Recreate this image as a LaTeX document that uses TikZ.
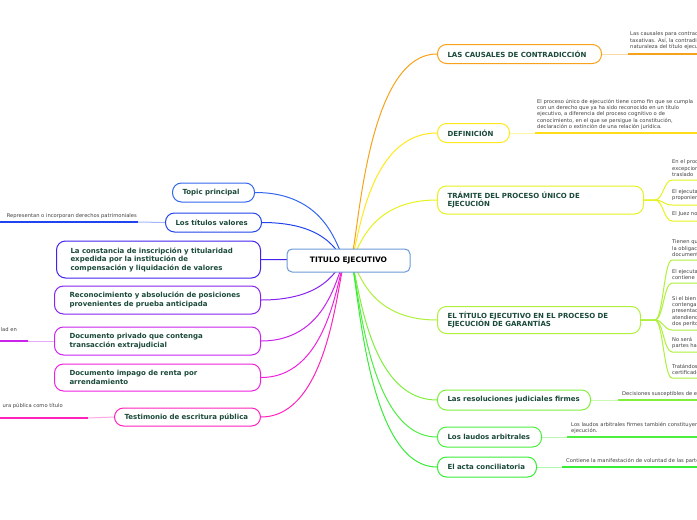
\documentclass[tikz,border=0pt]{standalone}
\usepackage{fontspec}
\setmainfont{DejaVu Sans}
\usetikzlibrary{calc,backgrounds}
\begin{document}
\begin{tikzpicture}[x=1pt,y=-1pt,
 box/.style 2 args={draw=#1,line width=1pt,rounded corners=9pt,fill=white,inner xsep=10pt,inner ysep=0pt,anchor=west,font=\fontsize{7}{8.5}\selectfont\bfseries,text=tgreen,align=left,text width=#2-20pt},
 small/.style={anchor=south west,inner sep=0pt,font=\fontsize{5.2}{6.4}\selectfont,text=black!75,align=left},
 con/.style={draw=#1,line width=1pt}]
\definecolor{tgreen}{HTML}{1B4A3A}
\definecolor{corange}{HTML}{F7A21B}
\definecolor{cyellow}{HTML}{FFE81C}
\definecolor{cy2}{HTML}{E6F21C}
\definecolor{cg1}{HTML}{AEF03A}
\definecolor{cg2}{HTML}{80F03C}
\definecolor{cg3}{HTML}{4CEE40}
\definecolor{cg4}{HTML}{38EC38}
\definecolor{cb1}{HTML}{3366EE}
\definecolor{cb2}{HTML}{2244EE}
\definecolor{cv1}{HTML}{4422EE}
\definecolor{cv2}{HTML}{8822EE}
\definecolor{cm1}{HTML}{CC22EE}
\definecolor{cm2}{HTML}{EE22DD}
\definecolor{cm3}{HTML}{FF22BB}
\useasboundingbox (0,0) rectangle (697,520);
\clip (0,0) rectangle (697,520);
\coordinate (cR) at (350,260);
\coordinate (cL) at (346,260);
% right branches
\node[box={corange}{164pt},minimum height=19pt] (n1) at (437,54) {LAS CAUSALES DE CONTRADICCIÓN};
\node[box={cyellow}{72pt},minimum height=19pt] (n2) at (437,133) {DEFINICIÓN};
\node[box={cy2}{206pt},minimum height=28pt] (n3) at (437,200) {TRÁMITE DEL PROCESO ÚNICO DE\\EJECUCIÓN};
\node[box={cg1}{203pt},minimum height=27pt] (n4) at (437,320) {EL TÍTULO EJECUTIVO EN EL PROCESO DE\\EJECUCIÓN DE GARANTÍAS};
\node[box={cg2}{153pt},minimum height=20pt] (n5) at (437,400) {Las resoluciones judiciales firmes};
\node[box={cg3}{104pt},minimum height=20pt] (n6) at (437,437) {Los laudos arbitrales};
\node[box={cg4}{99pt},minimum height=20pt] (n7) at (437,467) {El acta conciliatoria};
% left branches
\node[box={cb1}{82pt},minimum height=19pt] (m1) at (172,192.5) {Topic principal};
\node[box={cb2}{96pt},minimum height=19pt] (m2) at (165,222.5) {Los títulos valores};
\node[box={cv1}{204pt},minimum height=37pt,inner xsep=14pt,text width=176pt] (m3) at (56,259.5) {La constancia de inscripción y titularidad\\expedida por la institución de\\compensación y liquidación de valores};
\node[box={cv2}{206pt},minimum height=28pt,inner xsep=15pt,text width=176pt] (m4) at (54,300) {Reconocimiento y absolución de posiciones\\provenientes de prueba anticipada};
\node[box={cm1}{206pt},minimum height=28pt,inner xsep=15pt,text width=176pt] (m5) at (54,341) {Documento privado que contenga\\transacción extrajudicial};
\node[box={cm2}{206pt},minimum height=27pt,inner xsep=15pt,text width=176pt] (m6) at (54,377.5) {Documento impago de renta por\\arrendamiento};
\node[box={cm3}{146pt},minimum height=18pt] (m7) at (114,417) {Testimonio de escritura pública};
% center
\node[draw=cyan!50!blue!60,line width=1pt,rounded corners=5pt,fill=white,minimum width=123pt,minimum height=23pt,font=\fontsize{7.5}{9}\selectfont\bfseries,text=black] (c) at (348.5,260.5) {TITULO EJECUTIVO};
% leaf texts
\node[small] (t1) at (630,50) {Las causales para contradecir el título son\\taxativas. Así, la contradicción versa sobre la\\naturaleza del título ejecutivo};
\node[small] (t2) at (537,130) {El proceso único de ejecución tiene como fin que se cumpla\\con un derecho que ya ha sido reconocido en un título\\ejecutivo, a diferencia del proceso cognitivo o de\\conocimiento, en el que se persigue la constitución,\\declaración o extinción de una relación jurídica.};
\node[small] (t3a) at (672,177) {En el proceso\\excepciones\\traslado};
\node[small] (t3b) at (672,201) {El ejecutado\\proponiendo};
\node[small] (t3c) at (672,217) {El Juez no};
\node[small] (t4a) at (672,257) {Tienen que\\la obligación\\documento};
\node[small] (t4b) at (672,280) {El ejecutado\\contiene};
\node[small] (t4c) at (672,327) {Si el bien\\contenga\\presentado\\atendiendo\\dos peritos};
\node[small] (t4d) at (672,349) {No será\\partes han};
\node[small] (t4e) at (672,375) {Tratándose\\certificado};
\node[small] (t5) at (622,397) {Decisiones susceptibles de ejecución};
\node[small] (t6) at (571,434) {Los laudos arbitrales firmes también constituyen título de\\ejecución.};
\node[small] (t7) at (566,464) {Contiene la manifestación de voluntad de las partes};
\node[small,anchor=south east] (s2) at (137,219) {Representan o incorporan derechos patrimoniales};
\node[small,anchor=south east] (s5) at (17,332) {lad en};
\node[small,anchor=south east] (s7) at (63,409) {ura pública como título};
\begin{scope}[on background layer]
\foreach \n/\col in {n1/corange,n2/cyellow,n3/cy2,n4/cg1,n5/cg2,n6/cg3,n7/cg4}{
 \draw[con=\col] (cR) .. controls ($(cR)+(8,0)$) and ($(cR|-\n.west)+(12,0)$) .. (\n.west);
}
\foreach \n/\col in {m1/cb1,m2/cb2,m3/cv1,m4/cv2,m5/cm1,m6/cm2,m7/cm3}{
 \draw[con=\col] (cL) .. controls ($(cL)+(-8,0)$) and ($(cL|-\n.east)+(-12,0)$) .. (\n.east);
}
% leaf lines
\draw[con=corange!40] (n1.east) -- (628,54); \draw[corange,line width=2pt] (628,54) -- (697,54);
\draw[con=cyellow!40] (n2.east) -- (535,133); \draw[cyellow!90!orange,line width=2pt] (535,133) -- (697,133);
\foreach \y in {180,205,221}{
 \draw[con=cy2] (n3.east) -- (655,200) .. controls (663,200) and (664,\y) .. (672,\y) -- (697,\y);}
\foreach \y in {260,283,330,352,378}{
 \draw[con=cg1] (n4.east) -- (655,320) .. controls (663,320) and (664,\y) .. (672,\y) -- (697,\y);}
\draw[con=cg2!40] (n5.east) -- (618,400); \draw[cg2,line width=2pt] (618,400) -- (697,400);
\draw[con=cg3!40] (n6.east) -- (567,437); \draw[cg3,line width=2pt] (567,437) -- (697,437);
\draw[con=cg4!40] (n7.east) -- (562,467); \draw[cg4,line width=2pt] (562,467) -- (697,467);
\draw[con=cb2!40] (m2.west) -- (138,222); \draw[cb2,line width=2pt] (138,222) -- (0,222);
\draw[con=cm1!40] (m5.west) -- (28,341); \draw[cm1,line width=2pt] (28,341) -- (0,341);
\draw[con=cm3!40] (m7.west) -- (88,418); \draw[cm3,line width=2pt] (88,418) -- (0,418);
\end{scope}
\end{tikzpicture}
\end{document}
